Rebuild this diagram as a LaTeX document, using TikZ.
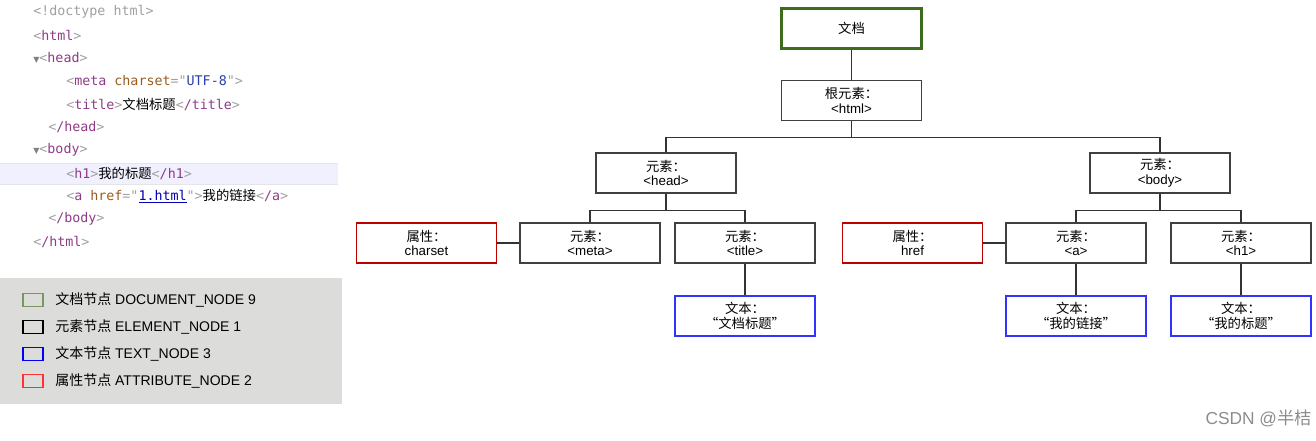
\documentclass[tikz,border=0pt]{standalone}
\usepackage{fontspec}
\setmainfont{Liberation Sans}
\setmonofont{DejaVu Sans Mono}
\newfontfamily\cjk{Noto Sans CJK SC}
\newfontfamily\djv{DejaVu Sans}
\definecolor{tagc}{HTML}{8E3B86}
\definecolor{brc}{HTML}{A0A0A0}
\definecolor{attc}{HTML}{9A5B1C}
\definecolor{valc}{HTML}{2A3FA8}
\definecolor{dgreen}{HTML}{3E6B1E}
\definecolor{lgray}{HTML}{DCDCDA}
\tikzset{
 box/.style={draw=black!75,line width=0.9pt,minimum width=105pt,minimum height=30pt,inner sep=0pt,align=center,font=\fontsize{10}{11}\selectfont},
 docbox/.style={box,draw=dgreen,line width=2pt},
 attbox/.style={box,draw=red!75!black},
 txtbox/.style={box,draw=blue!80},
 wire/.style={draw=black!80,line width=0.9pt},
 code/.style={anchor=west,inner sep=0pt,font=\ttfamily\fontsize{10}{11}\selectfont},
 leg/.style={anchor=west,inner sep=0pt,font=\fontsize{10.5}{12}\selectfont},
 sq/.style={draw,line width=0.9pt,minimum width=15pt,minimum height=10pt,inner sep=0pt}
}
\newcommand{\tg}[1]{\textcolor{brc}{<}\textcolor{tagc}{#1}\textcolor{brc}{>}}
\newcommand{\tri}{\textcolor{gray}{\djv\fontsize{6}{6}\selectfont ▼}}
\begin{document}
\begin{tikzpicture}[x=0.75pt,y=-0.75pt]
\useasboundingbox (0,0) rectangle (1316,440);
% code panel
\fill[blue!6] (0,163) rectangle (338,184);
\draw[black!10] (0,163) -- (338,163) (0,184)--(338,184);
\node[code,text=brc] (c1) at (33,12) {<!doctype html>};
\node[code] (c2) at (33,35) {\tg{html}};
\node[code] (c3) at (33,58) {\tri\tg{head}};
\node[code] (c4) at (66,81) {\textcolor{brc}{<}\textcolor{tagc}{meta} \textcolor{attc}{charset}\textcolor{brc}{="}\textcolor{valc}{UTF-8}\textcolor{brc}{">}};
\node[code] (c5) at (66,104) {\tg{title}{\cjk 文档标题}\tg{/title}};
\node[code] (c6) at (48,127) {\tg{/head}};
\node[code] (c7) at (33,150) {\tri\tg{body}};
\node[code] (c8) at (66,173) {\tg{h1}{\cjk 我的标题}\tg{/h1}};
\node[code] (c9) at (66,196) {\textcolor{brc}{<}\textcolor{tagc}{a} \textcolor{attc}{href}\textcolor{brc}{="}\textcolor{blue!70!black}{\underline{1.html}}\textcolor{brc}{">}{\cjk 我的链接}\tg{/a}};
\node[code] (c10) at (48,219) {\tg{/body}};
\node[code] (c11) at (33,242) {\tg{/html}};
% legend
\fill[lgray] (0,278) rectangle (342,404);
\node[sq,draw=dgreen!70] (s1) at (33,300) {};
\node[sq,draw=black] (s2) at (33,327) {};
\node[sq,draw=blue] (s3) at (33,354) {};
\node[sq,draw=red!80] (s4) at (33,381) {};
\node[leg] (l1) at (55,300) {{\cjk 文档节点} DOCUMENT\_NODE 9};
\node[leg] (l2) at (55,327) {{\cjk 元素节点} ELEMENT\_NODE 1};
\node[leg] (l3) at (55,354) {{\cjk 文本节点} TEXT\_NODE 3};
\node[leg] (l4) at (55,381) {{\cjk 属性节点} ATTRIBUTE\_NODE 2};
% tree
\node[docbox] (doc) at (851.5,28.5) {\cjk 文档};
\node[box] (root) at (851.5,100.5) {{\cjk 根元素：}\\<html>};
\node[box] (head) at (666,173) {{\cjk 元素：}\\<head>};
\node[box] (body) at (1160,173) {{\cjk 元素：}\\<body>};
\node[attbox] (cs) at (426.5,243) {{\cjk 属性：}\\charset};
\node[box] (meta) at (590,243) {{\cjk 元素：}\\<meta>};
\node[box] (title) at (745,243) {{\cjk 元素：}\\<title>};
\node[txtbox] (tt) at (745,316) {{\cjk 文本：}\\{\cjk “文档标题”}};
\node[attbox] (href) at (912.5,243) {{\cjk 属性：}\\href};
\node[box] (a) at (1076,243) {{\cjk 元素：}\\<a>};
\node[box] (h1) at (1241,243) {{\cjk 元素：}\\<h1>};
\node[txtbox] (ta) at (1076,316) {{\cjk 文本：}\\{\cjk “我的链接”}};
\node[txtbox] (th) at (1241,316) {{\cjk 文本：}\\{\cjk “我的标题”}};
\draw[wire] (doc) -- (root);
\draw[wire] (root.south) -- ++(0,16) -| (head.north);
\draw[wire] (root.south) -- ++(0,16) -| (body.north);
\draw[wire] (head.south) -- ++(0,17) -| (meta.north);
\draw[wire] (head.south) -- ++(0,17) -| (title.north);
\draw[wire] (body.south) -- ++(0,17) -| (a.north);
\draw[wire] (body.south) -- ++(0,17) -| (h1.north);
\draw[wire] (cs) -- (meta);
\draw[wire] (href) -- (a);
\draw[wire] (title) -- (tt);
\draw[wire] (a) -- (ta);
\draw[wire] (h1) -- (th);
\node[anchor=east,inner sep=0pt,text=black!45,font=\fontsize{13}{14}\selectfont] (wm) at (1312,418) {CSDN @{\cjk 半桔}};
\end{tikzpicture}
\end{document}
